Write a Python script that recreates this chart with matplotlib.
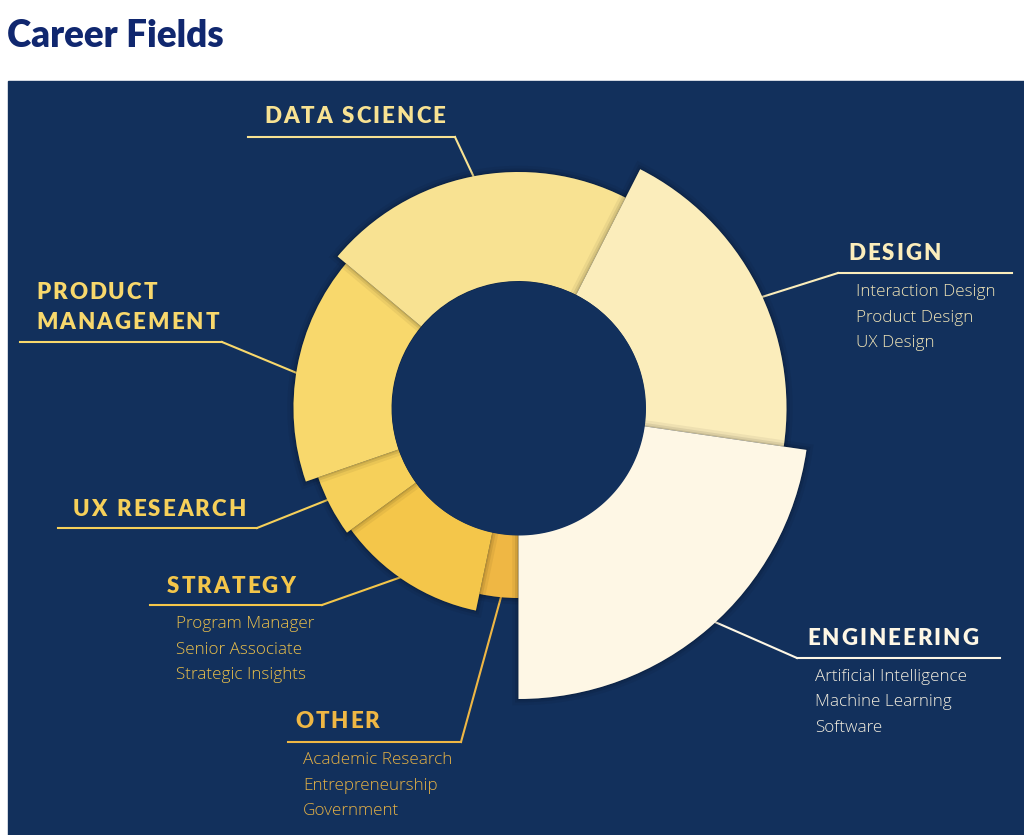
import numpy as np
import matplotlib
matplotlib.use("Agg")
import matplotlib.pyplot as plt
from matplotlib import patheffects as pe

# =========================
# Data
# =========================
fields = ["Engineering", "Design", "Data Science", "Product Management",
          "UX Research", "Strategy", "Other"]
share_pct = [22.7, 19.8, 21.4, 16.4, 4.7, 11.7, 3.3]   # angular share
reach = [291, 268, 236, 225, 212, 207, 190]          # outer radius
colors = ["#FEF7E5", "#FBEDBB", "#F8E292", "#F8D86C",
          "#F6D05A", "#F4C64A", "#EFB744"]

roles = {
    "Engineering": ["Artificial Intelligence", "Machine Learning", "Software"],
    "Design": ["Interaction Design", "Product Design", "UX Design"],
    "Strategy": ["Program Manager", "Senior Associate", "Strategic Insights"],
    "Other": ["Academic Research", "Entrepreneurship", "Government"],
}

# =========================
# Layout (pixels)
# =========================
W, H = 1024, 835
cx, cy = 518.5, 408
hole = 127
rmax = 300
start_deg = -90
navy = "#12305C"

labels = {
    "Engineering": dict(head=["ENGINEERING"], x=807, base=645, line=(797, 1000, 658),
                        elbow="left", attach=-47.4, sub=(815, 681)),
    "Design": dict(head=["DESIGN"], x=848, base=260, line=(838, 1012, 273),
                   elbow="left", attach=24.5, sub=(856, 296)),
    "Data Science": dict(head=["DATA SCIENCE"], x=264, base=123, line=(248, 455, 137),
                         elbow="right", attach=101),
    "Product Management": dict(head=["PRODUCT", "MANAGEMENT"], x=36, base=299,
                               line=(20, 222, 342), elbow="right", attach=171),
    "UX Research": dict(head=["UX RESEARCH"], x=73, base=516, line=(58, 257, 528),
                        elbow="right", attach=205.7),
    "Strategy": dict(head=["STRATEGY"], x=167, base=593, line=(150, 322, 605),
                     elbow="right", attach=235, sub=(176, 628)),
    "Other": dict(head=["OTHER"], x=295, base=728, line=(288, 461, 742),
                  elbow="right", attach=264.7, sub=(303, 764)),
}

fig = plt.figure(figsize=(W / 100, H / 100), dpi=100)
fig.patch.set_facecolor("white")

# background axes in pixel coordinates
ax = fig.add_axes([0, 0, 1, 1])
ax.set_xlim(0, W)
ax.set_ylim(H, 0)
ax.axis("off")
ax.add_patch(plt.Rectangle((8, 81), W - 8, H - 81, color=navy, zorder=0))
ax.text(7, 47, "Career Fields", fontsize=26.5, fontweight="heavy",
        family=["Lato", "DejaVu Sans"], color="#10276F", va="baseline")

# =========================
# Wedges (polar bars)
# =========================
pax = fig.add_axes([(cx - rmax) / W, (H - cy - rmax) / H, 2 * rmax / W, 2 * rmax / H],
                   projection="polar")
pax.set_ylim(0, rmax)
pax.set_axis_off()
pax.patch.set_alpha(0)

widths = np.deg2rad(np.array(share_pct) * 3.6)
starts = np.deg2rad(start_deg) + np.concatenate([[0], np.cumsum(widths)[:-1]])
bars = pax.bar(starts + widths / 2, np.array(reach) - hole, width=widths,
               bottom=hole, color=colors, linewidth=0)

shadow = [pe.Stroke(linewidth=9, foreground="black", alpha=0.05),
          pe.Stroke(linewidth=5, foreground="black", alpha=0.08),
          pe.Stroke(linewidth=2, foreground="black", alpha=0.10),
          pe.Normal()]
order = np.argsort(reach)
for rank, i in enumerate(order):
    bars[i].set_zorder(2 + rank)
    bars[i].set_path_effects(shadow)

th = np.linspace(0, 2 * np.pi, 400)
pax.fill_between(th, 0, hole, color=navy, zorder=20, linewidth=0)

# =========================
# Labels and leader lines
# =========================
renderer = fig.canvas.get_renderer()


def spaced_text(x, y, s, color, size=16, track=2.0):
    for ch in s:
        t = ax.text(x, y, ch, fontsize=size, fontweight="heavy", color=color,
                    family=["Lato", "DejaVu Sans"], va="baseline", zorder=5)
        w = t.get_window_extent(renderer).width
        if ch == " ":
            w = size * 0.35
        x += w + track


for i, name in enumerate(fields):
    lay = labels[name]
    col = colors[i]
    for k, line in enumerate(lay["head"]):
        spaced_text(lay["x"], lay["base"] + 30 * k, line, col)

    x0, x1, ly = lay["line"]
    a = np.deg2rad(lay["attach"])
    px = cx + reach[i] * np.cos(a)
    py = cy - reach[i] * np.sin(a)
    ex = x1 if lay["elbow"] == "right" else x0
    ax.plot([x0, x1], [ly, ly], color=col, lw=1.5, zorder=1)
    ax.plot([ex, px], [ly, py], color=col, lw=1.5, zorder=1)

    if name in roles:
        sx, sb = lay["sub"]
        for k, r in enumerate(roles[name]):
            ax.text(sx, sb + 25.5 * k, r, fontsize=12.3, fontweight="light",
                    family=["Open Sans", "DejaVu Sans"], color=col, alpha=0.95,
                    va="baseline", zorder=5)

fig.savefig("out.png", dpi=100)
